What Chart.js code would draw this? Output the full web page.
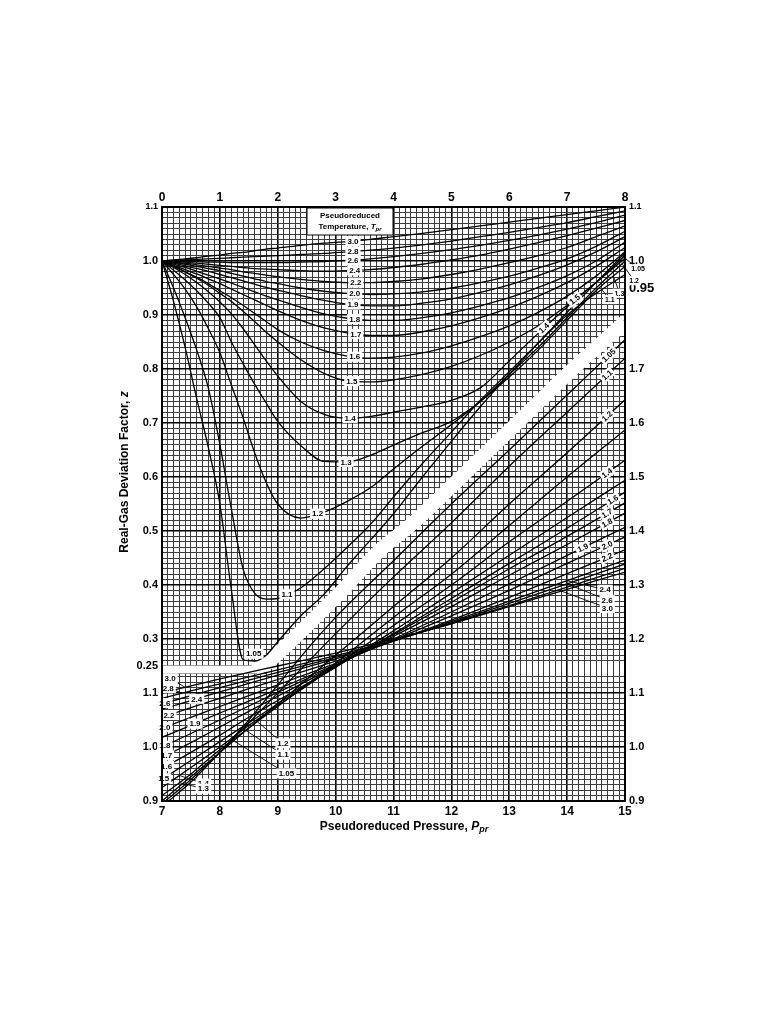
<!DOCTYPE html>
<html>
<head>
<meta charset="utf-8">
<script src="https://cdn.jsdelivr.net/npm/chart.js@4.4.1/dist/chart.umd.min.js"></script>
<style>
  html, body { margin: 0; padding: 0; background: #fff; }
  canvas { display: block; }
</style>
</head>
<body>
<canvas id="zChart" width="768" height="1024"></canvas>
<script>
// Pseudoreduced pressure sampling, upper chart (top axis 0-8) and lower chart (bottom axis 7-15)
const pprTop = [0, 0.2, 0.4, 0.6, 0.8, 1.0, 1.2, 1.4, 1.6, 1.8, 2.0, 2.4, 2.8, 3.2, 3.6, 4.0, 4.5, 5.0, 5.5, 6.0, 6.5, 7.0, 7.5, 8.0];
const pprBottom = [7, 7.5, 8, 8.5, 9, 9.5, 10, 11, 12, 13, 14, 15];

// z values (left scale)
const zTop105 = [1.0, 0.925, 0.84, 0.745, 0.655, 0.55, 0.39, 0.262, 0.259, 0.27, 0.295, 0.343, 0.383, 0.435, 0.483, 0.532, 0.60, 0.666, 0.73, 0.79, 0.848, 0.905, 0.96, 1.015];
const zTop110 = [1.0, 0.95, 0.895, 0.835, 0.765, 0.66, 0.54, 0.43, 0.385, 0.374, 0.375, 0.395, 0.43, 0.47, 0.512, 0.563, 0.625, 0.683, 0.742, 0.795, 0.848, 0.90, 0.94, 0.975];
const zTop120 = [1.0, 0.975, 0.948, 0.915, 0.875, 0.83, 0.77, 0.71, 0.645, 0.59, 0.55, 0.524, 0.535, 0.555, 0.58, 0.615, 0.657, 0.697, 0.74, 0.79, 0.84, 0.895, 0.95, 1.0];
const zTop130 = [1.0, 0.983, 0.965, 0.945, 0.922, 0.895, 0.85, 0.81, 0.772, 0.737, 0.703, 0.658, 0.629, 0.628, 0.64, 0.659, 0.682, 0.703, 0.74, 0.785, 0.835, 0.89, 0.945, 0.99];
const zTop140 = [1.0, 0.988, 0.975, 0.96, 0.943, 0.924, 0.902, 0.875, 0.845, 0.815, 0.787, 0.74, 0.716, 0.709, 0.712, 0.72, 0.73, 0.742, 0.765, 0.815, 0.866, 0.915, 0.96, 1.005];
const zTop150 = [1.0, 0.99, 0.98, 0.968, 0.955, 0.94, 0.925, 0.907, 0.888, 0.868, 0.85, 0.817, 0.792, 0.778, 0.776, 0.78, 0.79, 0.805, 0.825, 0.85, 0.88, 0.918, 0.96, 1.01];
const zTop160 = [1.0, 0.99, 0.98, 0.97, 0.958, 0.945, 0.932, 0.918, 0.903, 0.888, 0.873, 0.85, 0.834, 0.824, 0.82, 0.822, 0.83, 0.843, 0.86, 0.88, 0.905, 0.935, 0.972, 1.017];
const zTop170 = [1.0, 0.992, 0.984, 0.976, 0.967, 0.958, 0.948, 0.938, 0.928, 0.918, 0.908, 0.89, 0.876, 0.867, 0.862, 0.862, 0.869, 0.88, 0.895, 0.913, 0.935, 0.96, 0.99, 1.025];
const zTop180 = [1.0, 0.994, 0.988, 0.981, 0.974, 0.967, 0.959, 0.951, 0.943, 0.935, 0.928, 0.914, 0.902, 0.894, 0.89, 0.89, 0.895, 0.904, 0.917, 0.932, 0.951, 0.973, 1.0, 1.035];
const zTop190 = [1.0, 0.996, 0.991, 0.986, 0.981, 0.975, 0.969, 0.963, 0.957, 0.951, 0.946, 0.936, 0.927, 0.92, 0.917, 0.917, 0.922, 0.93, 0.942, 0.956, 0.973, 0.993, 1.017, 1.045];
const zTop200 = [1.0, 0.997, 0.994, 0.99, 0.986, 0.982, 0.977, 0.972, 0.967, 0.962, 0.958, 0.95, 0.944, 0.94, 0.938, 0.939, 0.943, 0.95, 0.96, 0.972, 0.987, 1.004, 1.027, 1.055];
const zTop220 = [1.0, 0.998, 0.996, 0.993, 0.99, 0.987, 0.984, 0.98, 0.977, 0.974, 0.971, 0.966, 0.962, 0.96, 0.96, 0.962, 0.967, 0.975, 0.985, 0.997, 1.01, 1.025, 1.045, 1.065];
const zTop240 = [1.0, 0.999, 0.998, 0.996, 0.994, 0.992, 0.99, 0.988, 0.986, 0.985, 0.984, 0.982, 0.981, 0.982, 0.984, 0.988, 0.994, 1.002, 1.011, 1.022, 1.034, 1.047, 1.061, 1.075];
const zTop260 = [1.0, 1.0, 0.999, 0.999, 0.998, 0.998, 0.997, 0.997, 0.997, 0.997, 0.997, 0.998, 0.999, 1.001, 1.004, 1.008, 1.014, 1.021, 1.029, 1.038, 1.048, 1.059, 1.071, 1.085];
const zTop280 = [1.0, 1.001, 1.002, 1.003, 1.004, 1.005, 1.006, 1.007, 1.008, 1.009, 1.01, 1.012, 1.014, 1.017, 1.02, 1.024, 1.03, 1.037, 1.045, 1.053, 1.062, 1.071, 1.082, 1.093];
const zTop300 = [1.0, 1.002, 1.004, 1.006, 1.009, 1.011, 1.014, 1.016, 1.019, 1.022, 1.024, 1.029, 1.033, 1.036, 1.04, 1.045, 1.051, 1.058, 1.065, 1.072, 1.079, 1.086, 1.093, 1.10];

// z values (right scale)
const zLow105 = [0.89, 0.935, 0.99, 1.05, 1.115, 1.18, 1.24, 1.345, 1.45, 1.55, 1.652, 1.754];
const zLow110 = [0.895, 0.94, 0.99, 1.045, 1.10, 1.155, 1.21, 1.315, 1.415, 1.52, 1.62, 1.72];
const zLow120 = [0.90, 0.945, 0.99, 1.035, 1.08, 1.125, 1.17, 1.26, 1.35, 1.45, 1.545, 1.643];
const zLow130 = [0.91, 0.95, 0.995, 1.035, 1.075, 1.115, 1.155, 1.24, 1.32, 1.41, 1.50, 1.587];
const zLow140 = [0.925, 0.962, 1.0, 1.04, 1.077, 1.113, 1.15, 1.225, 1.30, 1.38, 1.455, 1.531];
const zLow150 = [0.94, 0.975, 1.01, 1.045, 1.08, 1.115, 1.148, 1.215, 1.285, 1.355, 1.425, 1.494];
const zLow160 = [0.96, 0.99, 1.022, 1.055, 1.086, 1.117, 1.148, 1.21, 1.275, 1.34, 1.405, 1.472];
const zLow170 = [0.98, 1.008, 1.037, 1.066, 1.094, 1.122, 1.15, 1.208, 1.268, 1.33, 1.39, 1.452];
const zLow180 = [1.0, 1.025, 1.05, 1.076, 1.101, 1.126, 1.151, 1.205, 1.26, 1.318, 1.375, 1.433];
const zLow190 = [1.018, 1.04, 1.063, 1.085, 1.107, 1.13, 1.152, 1.20, 1.25, 1.302, 1.355, 1.407];
const zLow200 = [1.035, 1.055, 1.075, 1.095, 1.115, 1.135, 1.155, 1.198, 1.243, 1.29, 1.34, 1.389];
const zLow220 = [1.055, 1.073, 1.09, 1.108, 1.125, 1.142, 1.159, 1.196, 1.235, 1.277, 1.321, 1.365];
const zLow240 = [1.07, 1.086, 1.102, 1.118, 1.133, 1.148, 1.163, 1.196, 1.232, 1.27, 1.308, 1.346];
const zLow260 = [1.08, 1.095, 1.11, 1.124, 1.138, 1.152, 1.166, 1.197, 1.23, 1.266, 1.302, 1.339];
const zLow280 = [1.09, 1.104, 1.117, 1.13, 1.143, 1.156, 1.169, 1.198, 1.229, 1.262, 1.296, 1.331];
const zLow300 = [1.10, 1.113, 1.126, 1.138, 1.15, 1.162, 1.174, 1.20, 1.228, 1.26, 1.292, 1.324];

// white gap separating the two charts (upper scale)
const gapPpr = [0, 1.7];
const gapZ = [0.2435, 0.2435];
const bandPpr = [1.6, 1.85, 3.07, 3.77, 4.34, 5.41, 6.3, 7.17, 8.0];
const bandZ = [0.2435, 0.258, 0.385, 0.465, 0.515, 0.625, 0.717, 0.807, 0.887];

const tprNames = ['1.05', '1.1', '1.2', '1.3', '1.4', '1.5', '1.6', '1.7', '1.8', '1.9', '2.0', '2.2', '2.4', '2.6', '2.8', '3.0'];
const topSeries = [zTop105, zTop110, zTop120, zTop130, zTop140, zTop150, zTop160, zTop170, zTop180, zTop190, zTop200, zTop220, zTop240, zTop260, zTop280, zTop300];
const lowSeries = [zLow105, zLow110, zLow120, zLow130, zLow140, zLow150, zLow160, zLow170, zLow180, zLow190, zLow200, zLow220, zLow240, zLow260, zLow280, zLow300];

const FONT = '"Liberation Sans", Arial, sans-serif';

const pts = (xs, ys) => xs.map((x, i) => ({ x: x, y: ys[i] }));
const near = (a, b) => Math.abs(a - b) < 1e-6;
const steps = (from, to, step) => {
  const out = [];
  for (let i = 0; from + i * step <= to + 1e-9; i++) out.push(Math.round((from + i * step) * 1000) / 1000);
  return out;
};

const datasets = [];
datasets.push({ data: pts(gapPpr, gapZ), xAxisID: 'x', yAxisID: 'y', borderColor: '#fff', borderWidth: 8, pointRadius: 0, order: 10, clip: 0 });
datasets.push({ data: pts(bandPpr, bandZ), xAxisID: 'x', yAxisID: 'y', borderColor: '#fff', borderWidth: 14, pointRadius: 0, tension: 0.3, order: 10, clip: 0 });
topSeries.forEach((z, i) => datasets.push({
  label: 'top ' + tprNames[i], data: pts(pprTop, z), xAxisID: 'x', yAxisID: 'y',
  borderColor: '#000', borderWidth: 1.3, pointRadius: 0, cubicInterpolationMode: 'monotone', order: 1
}));
lowSeries.forEach((z, i) => datasets.push({
  label: 'low ' + tprNames[i], data: pts(pprBottom, z), xAxisID: 'x2', yAxisID: 'y2',
  borderColor: '#000', borderWidth: 1.3, pointRadius: 0, cubicInterpolationMode: 'monotone', order: 1
}));

function interp(xs, ys, p) {
  for (let i = 1; i < xs.length; i++) {
    if (p <= xs[i]) {
      const t = (p - xs[i - 1]) / (xs[i] - xs[i - 1]);
      return ys[i - 1] + t * (ys[i] - ys[i - 1]);
    }
  }
  return ys[ys.length - 1];
}

// [Tpr, ppr, dx, dy, follow slope, font size]
const topTags = [
  ['3.0', 3.3], ['2.8', 3.3], ['2.6', 3.3], ['2.4', 3.33], ['2.2', 3.35], ['2.0', 3.33], ['1.9', 3.3],
  ['1.8', 3.33], ['1.7', 3.35], ['1.6', 3.33], ['1.5', 3.28], ['1.4', 3.25], ['1.3', 3.18], ['1.2', 2.69],
  ['1.1', 2.16], ['1.05', 1.55, 2, -7],
  ['1.4', 6.6, 0, 0, true], ['1.5', 7.13, 0, 0, true],
  ['1.05', 7.95, 16, 13, false, 7], ['1.2', 7.95, 12, 17, false, 7], ['1.3', 7.8, 6, 17, false, 7], ['1.1', 7.6, 8, 10, false, 7]
];
const lowTags = [
  ['3.0', 7.4, -15, -9], ['2.8', 7.35, -14, -5], ['2.6', 7.05], ['2.4', 7.6], ['2.2', 7.12], ['2.0', 7.05],
  ['1.9', 7.57], ['1.8', 7.05], ['1.7', 7.08], ['1.6', 7.08], ['1.5', 7.03], ['1.4', 7.3, 24, 8], ['1.3', 7.3, 24, 6],
  ['1.2', 8.64, 26, 22], ['1.1', 8.4, 40, 26], ['1.05', 8.2, 55, 34],
  ['1.05', 14.72, 0, 0, true], ['1.1', 14.69, 0, 0, true], ['1.2', 14.69, 0, 0, true], ['1.4', 14.69, 0, 0, true],
  ['1.6', 14.79, 0, 0, true], ['1.7', 14.69, 0, 0, true], ['1.8', 14.69, 0, 0, true], ['1.9', 14.27, 0, 0, true],
  ['2.0', 14.69, 0, 0, true], ['2.2', 14.69, 0, 0, true],
  ['2.4', 14.0, 38, 9], ['2.6', 14.0, 40, 16], ['3.0', 13.9, 46, 17]
];

function drawTag(ctx, text, x, y, angle, size) {
  ctx.save();
  ctx.translate(x, y);
  ctx.rotate(angle);
  ctx.font = 'bold ' + size + 'px ' + FONT;
  const w = ctx.measureText(text).width + 4;
  const h = size + 2;
  ctx.fillStyle = '#fff';
  ctx.fillRect(-w / 2, -h / 2, w, h);
  ctx.fillStyle = '#000';
  ctx.textAlign = 'center';
  ctx.textBaseline = 'middle';
  ctx.fillText(text, 0, 0.5);
  ctx.restore();
}

function drawTags(chart, tags, xs, series, xId, yId) {
  const ctx = chart.ctx;
  const sx = chart.scales[xId], sy = chart.scales[yId];
  tags.forEach(t => {
    const ys = series[tprNames.indexOf(t[0])];
    const p = t[1], dx = t[2] || 0, dy = t[3] || 0;
    const px = sx.getPixelForValue(p), py = sy.getPixelForValue(interp(xs, ys, p));
    let ang = 0;
    if (t[4]) {
      const a = sx.getPixelForValue(p - 0.1), b = sx.getPixelForValue(p + 0.1);
      const ya = sy.getPixelForValue(interp(xs, ys, p - 0.1)), yb = sy.getPixelForValue(interp(xs, ys, p + 0.1));
      ang = Math.atan2(yb - ya, b - a);
    }
    if (dx || dy) {
      ctx.save();
      ctx.strokeStyle = '#000';
      ctx.lineWidth = 0.9;
      ctx.beginPath();
      ctx.moveTo(px, py);
      ctx.lineTo(px + dx, py + dy);
      ctx.stroke();
      ctx.restore();
    }
    drawTag(ctx, t[0], px + dx, py + dy, ang, t[5] || 8);
  });
}

function drawRich(ctx, parts, x, y) {
  let total = 0;
  parts.forEach(p => { ctx.font = p[1]; total += ctx.measureText(p[0]).width; });
  let cx = x - total / 2;
  ctx.textAlign = 'left';
  ctx.textBaseline = 'middle';
  parts.forEach(p => {
    ctx.font = p[1];
    ctx.fillText(p[0], cx, y + (p[2] || 0));
    cx += ctx.measureText(p[0]).width;
  });
}

const framePlugin = {
  id: 'frame',
  beforeDatasetsDraw(chart) {
    const ctx = chart.ctx, sx = chart.scales.x, sy = chart.scales.y;
    const x0 = chart.chartArea.left;
    ctx.save();
    ctx.strokeStyle = '#000';
    ctx.lineWidth = 1.6;
    ctx.beginPath();
    ctx.moveTo(x0, sy.getPixelForValue(0.25));
    ctx.lineTo(sx.getPixelForValue(1.55), sy.getPixelForValue(0.25));
    ctx.moveTo(x0, sy.getPixelForValue(0.237));
    ctx.lineTo(sx.getPixelForValue(1.8), sy.getPixelForValue(0.237));
    ctx.stroke();
    ctx.restore();
  },
  afterDatasetsDraw(chart) {
    const ctx = chart.ctx;
    const a = chart.chartArea;
    drawTags(chart, topTags, pprTop, topSeries, 'x', 'y');
    drawTags(chart, lowTags, pprBottom, lowSeries, 'x2', 'y2');

    ctx.save();
    ctx.strokeStyle = '#000';
    ctx.lineWidth = 2;
    ctx.strokeRect(a.left, a.top, a.right - a.left, a.bottom - a.top);

    // Tpr legend box
    ctx.fillStyle = '#fff';
    ctx.fillRect(307, a.top + 1, 86, 27);
    ctx.lineWidth = 1;
    ctx.strokeRect(307, a.top + 1, 86, 27);
    ctx.fillStyle = '#000';
    drawRich(ctx, [['Pseudoreduced', 'bold 8px ' + FONT]], 350, a.top + 9);
    drawRich(ctx, [['Temperature, ', 'bold 8px ' + FONT], ['T', 'italic bold 8px ' + FONT], ['pr', 'italic bold 6px ' + FONT, 2]], 350, a.top + 20);

    // axis titles
    drawRich(ctx, [['Pseudoreduced Pressure, ', 'bold 12px ' + FONT], ['P', 'italic bold 12px ' + FONT], ['pr', 'italic bold 9px ' + FONT, 3]], 404, 827);
    ctx.translate(125, 472);
    ctx.rotate(-Math.PI / 2);
    drawRich(ctx, [['Real-Gas Deviation Factor, ', 'bold 12px ' + FONT], ['z', 'italic bold 12px ' + FONT]], 0, 0);
    ctx.restore();
  }
};

const tickFont = { family: FONT, size: 11, weight: 'bold' };
// grid: fine lines every 0.1 Ppr and 0.01 z, heavier every 1 Ppr and 0.1 z
const isMajorX = v => near(v, Math.round(v));
const isMajorY = v => near(v * 10, Math.round(v * 10));

const chart = new Chart(document.getElementById('zChart'), {
  type: 'line',
  data: { datasets: datasets },
  options: {
    responsive: false,
    animation: false,
    events: [],
    layout: { padding: 0 },
    plugins: { legend: { display: false }, tooltip: { enabled: false } },
    scales: {
      x: {
        type: 'linear', position: 'top', min: 0, max: 8,
        afterBuildTicks: s => { s.ticks = steps(0, 8, 0.1).map(v => ({ value: v })); },
        afterFit: s => { s.height = 207; },
        ticks: {
          autoSkip: false, maxRotation: 0, padding: 2, color: '#000',
          font: { family: FONT, size: 12, weight: 'bold' },
          callback: v => isMajorX(v) ? String(Math.round(v)) : ''
        },
        grid: {
          drawTicks: false, tickLength: 0,
          color: c => isMajorX(c.tick.value) ? '#000' : '#3c3c3c',
          lineWidth: c => isMajorX(c.tick.value) ? 1.6 : 1
        },
        border: { display: false }
      },
      x2: {
        type: 'linear', position: 'bottom', min: 7, max: 15,
        afterBuildTicks: s => { s.ticks = steps(7, 15, 1).map(v => ({ value: v })); },
        afterFit: s => { s.height = 223; },
        ticks: { autoSkip: false, maxRotation: 0, padding: 3, color: '#000', font: { family: FONT, size: 12, weight: 'bold' } },
        grid: { display: false, drawTicks: false },
        border: { display: false }
      },
      y: {
        type: 'linear', position: 'left', min: 0, max: 1.1,
        afterBuildTicks: s => { s.ticks = steps(0, 1.1, 0.01).map(v => ({ value: v })); },
        afterFit: s => { s.width = 162; },
        ticks: {
          autoSkip: false, padding: 4, color: '#000',
          font: c => (c.tick && near(c.tick.value, 1.1)) ? { family: FONT, size: 9, weight: 'bold' } : tickFont,
          callback: v => {
            if (near(v, 0)) return '0.9';
            if (near(v, 0.1)) return '1.0';
            if (near(v, 0.2)) return '1.1';
            if (near(v, 0.25)) return '0.25';
            if (v > 0.28 && isMajorY(v)) return v.toFixed(1);
            return '';
          }
        },
        grid: {
          drawTicks: false, tickLength: 0,
          color: c => isMajorY(c.tick.value) ? '#000' : '#3c3c3c',
          lineWidth: c => near(c.tick.value, 0.25) || near(c.tick.value, 0.24) ? 0 : (isMajorY(c.tick.value) ? 1.6 : 1)
        },
        border: { display: false }
      },
      y2: {
        type: 'linear', position: 'right', min: 0.9, max: 2.0,
        afterBuildTicks: s => { s.ticks = [0.9, 1.0, 1.1, 1.2, 1.3, 1.4, 1.5, 1.6, 1.7, 1.85, 1.9, 2.0].map(v => ({ value: v })); },
        afterFit: s => { s.width = 143; },
        ticks: {
          autoSkip: false, padding: 4, color: '#000',
          font: c => (c.tick && near(c.tick.value, 2.0)) ? { family: FONT, size: 9, weight: 'bold' }
            : (c.tick && near(c.tick.value, 1.85)) ? { family: FONT, size: 13, weight: 'bold' } : tickFont,
          callback: v => {
            if (near(v, 1.85)) return '0.95';
            if (near(v, 1.9)) return '1.0';
            if (near(v, 2.0)) return '1.1';
            return v.toFixed(1);
          }
        },
        grid: { display: false, drawTicks: false },
        border: { display: false }
      }
    }
  },
  plugins: [framePlugin]
});
</script>
</body>
</html>
